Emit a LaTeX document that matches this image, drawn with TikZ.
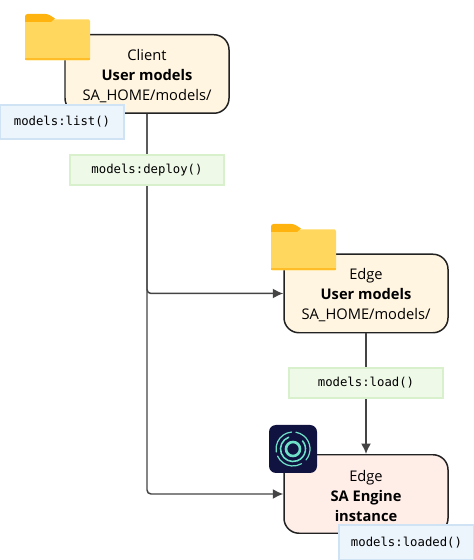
\documentclass[tikz,border=0pt]{standalone}
\usepackage{fontspec}
\setmainfont{Open Sans}
\setmonofont{DejaVu Sans Mono}
\usetikzlibrary{arrows.meta, calc}
\definecolor{boxline}{HTML}{222222}
\definecolor{linkline}{HTML}{444444}
\definecolor{creamfill}{HTML}{FFF5E1}
\definecolor{rosefill}{HTML}{FFEDE8}
\definecolor{bluefill}{HTML}{ECF4FC}
\definecolor{blueline}{HTML}{CFE3F5}
\definecolor{greenfill}{HTML}{EEF9E8}
\definecolor{greenline}{HTML}{D8F0CC}
\definecolor{foldbody}{HTML}{FFD75E}
\definecolor{foldtab}{HTML}{FFB30F}
\definecolor{iconnavy}{HTML}{10123F}
\definecolor{iconteal}{HTML}{6FE0C8}
\tikzset{
  modelbox/.style={draw=boxline, line width=0.85pt, rounded corners=0.3cm, minimum width=3.28cm, minimum height=1.57cm, inner sep=0pt, align=center, font=\fontsize{8.35}{11.4}\selectfont},
  callnote/.style={draw=#1line, fill=#1fill, line width=0.7pt, inner sep=0pt, font=\ttfamily\fontsize{7}{8}\selectfont},
  link/.style={draw=linkline, line width=0.85pt, rounded corners=0.08cm, -{Latex[length=0.21cm, width=0.2cm]}},
  iconring/.style={iconteal, line width=#1, line cap=round}
}
% one folder symbol, anchored at its lower left corner
\newcommand{\foldersym}[1]{
  \fill[foldbody, rounded corners=0.03cm] (#1) rectangle ++(1.3,0.82);
  \fill[foldtab] ($(#1)+(0,0.77)$) [rounded corners=0.05cm] -- ++(0,0.16) -- ++(0.46,0) [sharp corners] -- ++(0.14,-0.09) -- ++(-0.08,-0.07) -- cycle;
  \fill[foldtab!70!foldbody] (#1) rectangle ++(1.3,0.05);
}
% pushes the three lines of a box a little down
\newcommand{\boxstrut}{\rule{0pt}{8.6pt}}
\begin{document}
\begin{tikzpicture}
  \useasboundingbox (0,0) rectangle (9.48,11.2);
  \node[modelbox, fill=creamfill] (client) at (2.94,9.72) {\boxstrut Client\\\textbf{User models}\\SA\_HOME/models/};
  \node[modelbox, fill=creamfill] (edge) at (7.32,5.33) {\boxstrut Edge\\\textbf{User models}\\SA\_HOME/models/};
  \node[modelbox, fill=rosefill] (engine) at (7.32,1.32) {\boxstrut Edge\\\textbf{SA Engine}\\\textbf{instance}};
  % les liens passent sous les notes
  \draw[link] (client.south) |- (edge.west);
  \draw[link] (client.south) |- (engine.west);
  \draw[link] (edge.south) -- (engine.north);
  \node[callnote=blue, minimum width=2.48cm, minimum height=0.68cm] (list) at (1.24,8.76) {models:list()};
  \node[callnote=green, minimum width=3.08cm, minimum height=0.6cm] (deploy) at (2.94,7.8) {models:deploy()};
  \node[callnote=green, minimum width=3.08cm, minimum height=0.6cm] (load) at (7.32,3.54) {models:load()};
  \node[callnote=blue, minimum width=2.7cm, minimum height=0.7cm] (loaded) at (8.13,0.35) {models:loaded()};
  \foldersym{0.5,9.99}
  \foldersym{5.42,5.79}
  % icone du moteur
  \node[fill=iconnavy, rounded corners=0.14cm, minimum size=0.96cm, inner sep=0pt] (icon) at (5.86,2.22) {};
  \draw[iconring=1.5pt] (icon.center) circle (0.14);
  \draw[iconring=0.9pt] (icon.center) ++(110:0.25) arc (110:400:0.25);
  \draw[iconring=0.7pt] (icon.center) ++(95:0.34) arc (95:190:0.34);
  \draw[iconring=0.7pt] (icon.center) ++(205:0.34) arc (205:300:0.34);
  \draw[iconring=0.7pt] (icon.center) ++(320:0.34) arc (320:440:0.34);
\end{tikzpicture}
\end{document}
